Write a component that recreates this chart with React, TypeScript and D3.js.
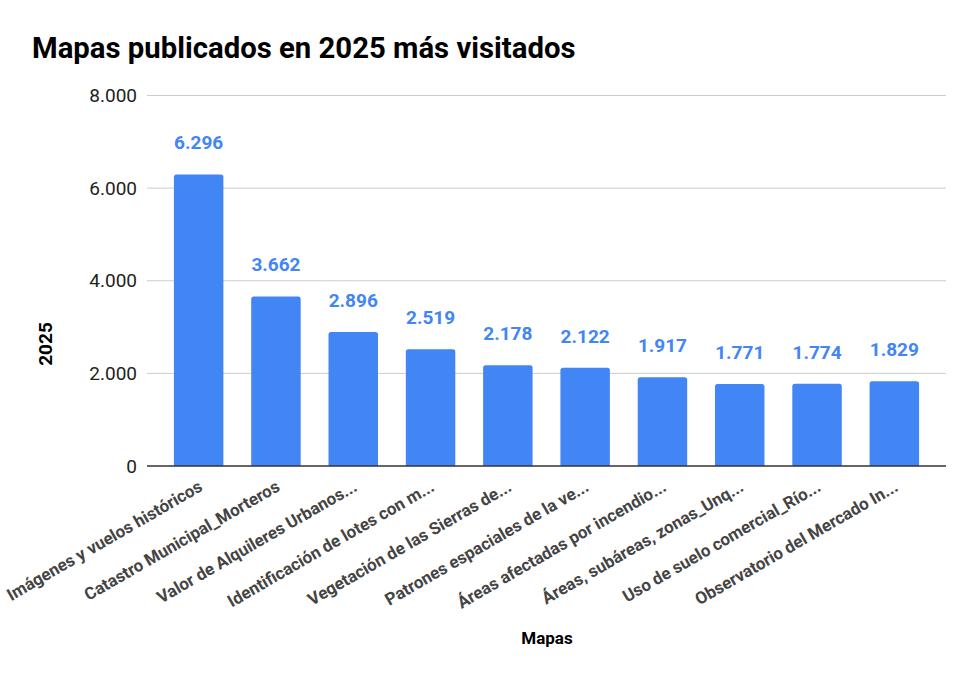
import React, { useEffect, useRef } from 'react';
import * as d3 from 'd3';

const categories = [
  'Imágenes y vuelos históricos',
  'Catastro Municipal_Morteros',
  'Valor de Alquileres Urbanos...',
  'Identificación de lotes con m...',
  'Vegetación de las Sierras de...',
  'Patrones espaciales de la ve...',
  'Áreas afectadas por incendio...',
  'Áreas, subáreas, zonas_Unq...',
  'Uso de suelo comercial_Río...',
  'Observatorio del Mercado In...',
];
const visits2025 = [6296, 3662, 2896, 2519, 2178, 2122, 1917, 1771, 1774, 1829];
const yTicks = [0, 2000, 4000, 6000, 8000];

const W = 980;
const H = 682;

const esFormat = d3.formatLocale({
  decimal: ',',
  thousands: '.',
  grouping: [3],
  currency: ['', '€'],
}).format(',d');

export default function App() {
  const svgRef = useRef<SVGSVGElement>(null);

  useEffect(() => {
    if (!svgRef.current) return;
    const svg = d3.select(svgRef.current);
    svg.selectAll('*').remove();

    const font = 'Roboto, sans-serif';
    const gridLeft = 147, gridRight = 946;

    const x = d3.scaleBand<string>()
      .domain(categories)
      .range([160, 933])
      .paddingInner(0.36)
      .paddingOuter(0.18);

    const y = d3.scaleLinear().domain([0, 8000]).range([466, 95.5]);

    // title
    svg.append('text')
      .attr('x', 32)
      .attr('y', 58)
      .attr('font-family', font)
      .attr('font-weight', 700)
      .attr('font-size', 29.3)
      .attr('fill', '#000')
      .text('Mapas publicados en 2025 más visitados');

    // gridlines + tick labels
    const grid = svg.append('g');
    grid.selectAll('line')
      .data(yTicks.filter(t => t !== 0))
      .join('line')
      .attr('x1', gridLeft)
      .attr('x2', gridRight)
      .attr('y1', d => y(d))
      .attr('y2', d => y(d))
      .attr('stroke', '#cccccc')
      .attr('stroke-width', 1);

    grid.selectAll('text')
      .data(yTicks)
      .join('text')
      .attr('x', 137)
      .attr('y', d => y(d) + 6.5)
      .attr('text-anchor', 'end')
      .attr('font-family', font)
      .attr('font-size', 19)
      .attr('fill', '#222')
      .text(d => esFormat(d));

    // bars
    const r = 2.5;
    svg.append('g')
      .selectAll('path')
      .data(visits2025)
      .join('path')
      .attr('fill', '#4285f4')
      .attr('d', (d, i) => {
        const x0 = x(categories[i])!;
        const bw = x.bandwidth();
        const y0 = y(d), yb = y(0);
        return `M${x0},${yb}V${y0 + r}Q${x0},${y0} ${x0 + r},${y0}H${x0 + bw - r}Q${x0 + bw},${y0} ${x0 + bw},${y0 + r}V${yb}Z`;
      });

    // value labels
    svg.append('g')
      .selectAll('text')
      .data(visits2025)
      .join('text')
      .attr('x', (d, i) => x(categories[i])! + x.bandwidth() / 2)
      .attr('y', d => y(d) - 25)
      .attr('text-anchor', 'middle')
      .attr('font-family', font)
      .attr('font-weight', 700)
      .attr('font-size', 19)
      .attr('fill', '#4285f4')
      .text(d => esFormat(d));

    // baseline
    svg.append('line')
      .attr('x1', gridLeft)
      .attr('x2', gridRight)
      .attr('y1', y(0))
      .attr('y2', y(0))
      .attr('stroke', '#333')
      .attr('stroke-width', 1.5);

    // x labels
    svg.append('g')
      .selectAll('text')
      .data(categories)
      .join('text')
      .attr('transform', d => `translate(${x(d)! + x.bandwidth() / 2 + 5},${490}) rotate(-30)`)
      .attr('text-anchor', 'end')
      .attr('font-family', font)
      .attr('font-weight', 700)
      .attr('font-size', 17)
      .attr('fill', '#444')
      .text(d => d);

    // axis titles
    svg.append('text')
      .attr('x', 547)
      .attr('y', 644)
      .attr('text-anchor', 'middle')
      .attr('font-family', font)
      .attr('font-weight', 700)
      .attr('font-size', 17)
      .attr('fill', '#000')
      .text('Mapas');

    svg.append('text')
      .attr('transform', 'translate(52,344) rotate(-90)')
      .attr('text-anchor', 'middle')
      .attr('font-family', font)
      .attr('font-weight', 700)
      .attr('font-size', 19)
      .attr('fill', '#000')
      .text('2025');
  }, []);

  return (
    <svg
      ref={svgRef}
      width={W}
      height={H}
      style={{ position: 'absolute', left: 0, top: 0, background: '#fff' }}
    />
  );
}
